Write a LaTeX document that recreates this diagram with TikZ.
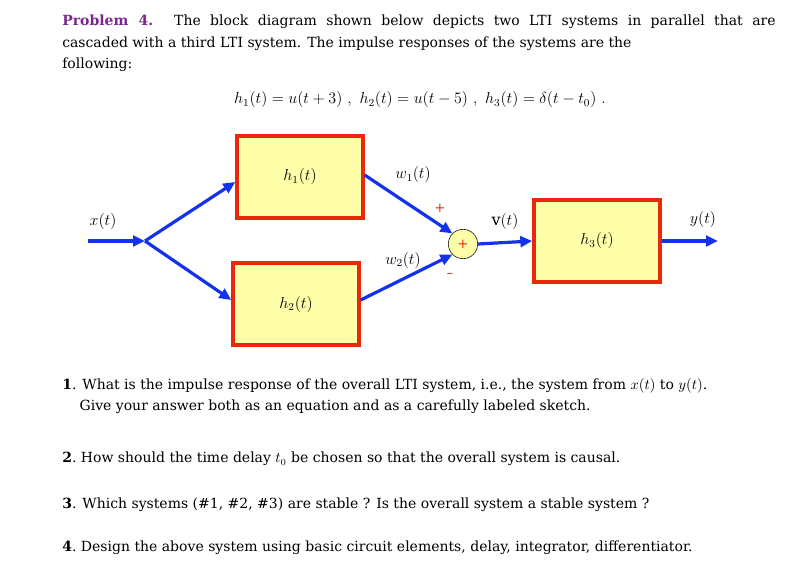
\documentclass[tikz,border=0pt]{standalone}
\usepackage{fontspec}
\setmainfont{DejaVu Serif}
\usetikzlibrary{arrows.meta,calc}
\definecolor{bl}{RGB}{20,50,235}
\definecolor{rd}{RGB}{235,40,10}
\definecolor{yl}{RGB}{255,255,170}
\definecolor{pp}{RGB}{120,40,140}
\begin{document}
\begin{tikzpicture}[x=0.75pt,y=-0.75pt,
 blk/.style={draw=rd,line width=3pt,fill=yl,minimum width=94pt,minimum height=62pt,inner sep=0pt,font=\large},
 sig/.style={bl,line width=2.4pt,-{Triangle[length=9pt,width=8pt]}},
 sgn/.style={text=rd},
 lab/.style={font=\large},
 txt/.style={anchor=north west,align=justify,inner sep=0pt,font=\fontsize{10.5}{16}\selectfont}]
\useasboundingbox (0,0) rectangle (805,573);
\node[txt,text width=535pt] (p) at (62,15) {{\color{pp}\bfseries Problem 4.} The block diagram shown below depicts two LTI systems in parallel that are\linebreak cascaded with a third LTI system. The impulse responses of the systems are the\\ following:};
\node[font=\large] (eq) at (420,100) {$h_1(t)=u(t+3)\ ,\ h_2(t)=u(t-5)\ ,\ h_3(t)=\delta(t-t_0)\ .$};
\node[blk] (h1) at (300,177) {$h_1(t)$};
\node[blk] (h2) at (296,304) {$h_2(t)$};
\node[blk] (h3) at (597,241) {$h_3(t)$};
\node[circle,draw,fill=yl,minimum size=22pt,inner sep=0pt] (s) at (463,244) {};
\node[sgn] at (463,244) {+};
\node[sgn] (pl) at (440,208) {+};
\node[sgn] (mi) at (450,276) {--};
\coordinate (xin) at (88,241);
\coordinate (b) at (145,241);
\coordinate (yout) at (718,241);
\draw[sig] (xin) -- (b);
\draw[sig] (b) -- (h1.west|-0,182);
\draw[sig] (b) -- (h2.west|-0,300);
\draw[sig] (h1.east|-0,175) -- (s.north west);
\draw[sig] (h2.east|-0,300) -- (s.south west);
\draw[sig] (s.east) -- (h3.west);
\draw[sig] (h3.east) -- (yout);
\node[lab] at (103,222) {$x(t)$};
\node[lab] at (413,175) {$w_1(t)$};
\node[lab] at (403,260) {$w_2(t)$};
\node[lab] at (505,222) {$\mathrm{v}(t)$};
\node[lab] at (703,220) {$y(t)$};
\node[txt,text width=700pt] (q1) at (62,378) {\textbf{1}. What is the impulse response of the overall LTI system, i.e., the system from $x(t)$ to $y(t)$.\\\hspace*{13pt}Give your answer both as an equation and as a carefully labeled sketch.};
\node[txt] (q2) at (62,452) {\textbf{2}.\ How should the time delay $t_0$ be chosen so that the overall system is causal.};
\node[txt] (q3) at (62,498) {\textbf{3}. Which systems (\#1, \#2, \#3) are stable ? Is the overall system a stable system ?};
\node[txt] (q4) at (62,541) {\textbf{4}.\ Design the above system using basic circuit elements, delay, integrator, differentiator.};
\end{tikzpicture}
\end{document}
